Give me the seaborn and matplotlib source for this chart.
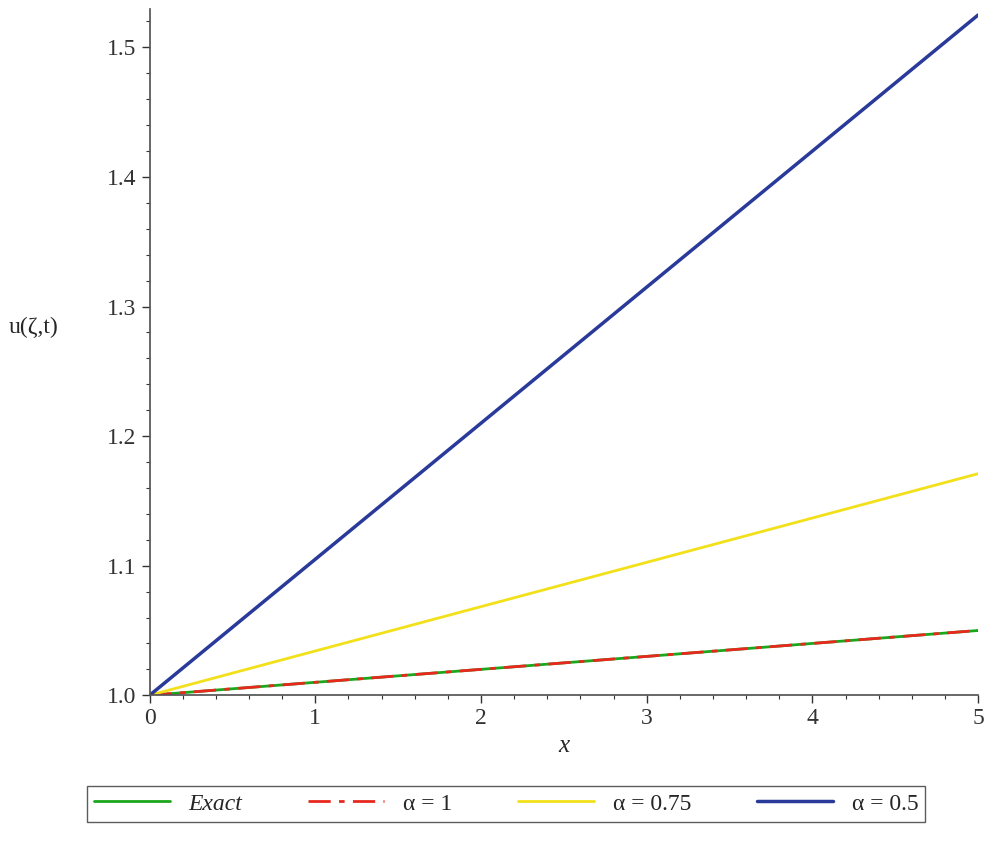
import numpy as np
import seaborn as sns
import matplotlib.pyplot as plt
from matplotlib.ticker import MultipleLocator

sns.set_theme(style="white")
plt.rcParams['font.family'] = ['Liberation Serif', 'DejaVu Serif']

x = [0, 5]
exact = [1.0, 1.05]
alpha_1 = [1.0, 1.05]
alpha_075 = [1.0, 1.171]
alpha_05 = [1.0, 1.525]

fig = plt.figure(figsize=(9.91, 8.51), dpi=100)
ax = fig.add_axes([0.151, 0.183, 0.836, 0.807])

sns.lineplot(x=x, y=exact, ax=ax, color="#1ca61c", lw=2, label="Exact")
sns.lineplot(x=x, y=alpha_1, ax=ax, color="#e8281e", lw=2, label="α = 1")
ax.lines[-1].set_dashes([8, 3, 2, 3])
sns.lineplot(x=x, y=alpha_075, ax=ax, color="#f2e01a", lw=2, label="α = 0.75")
sns.lineplot(x=x, y=alpha_05, ax=ax, color="#2a3a9a", lw=2.5, label="α = 0.5")

ax.set_xlim(0, 5)
ax.set_ylim(1.0, 1.53)
ax.yaxis.set_major_locator(MultipleLocator(0.1))
ax.yaxis.set_minor_locator(MultipleLocator(0.02))
ax.xaxis.set_major_locator(MultipleLocator(1))
ax.xaxis.set_minor_locator(MultipleLocator(0.2))
ax.yaxis.set_major_formatter(plt.FuncFormatter(lambda v, p: f"{v:.1f}"))
ax.tick_params(which="major", direction="out", length=6, width=1, labelsize=17, left=True, bottom=True, colors="#333333")
ax.tick_params(which="minor", direction="out", length=3, width=0.8, left=True, bottom=True, colors="#333333")
for s in ["top", "right"]:
    ax.spines[s].set_visible(False)
for s in ["left", "bottom"]:
    ax.spines[s].set_color("#555555")

ax.set_xlabel("x", fontsize=18, style="italic", labelpad=4)
ax.set_ylabel("u(ζ,t)", fontsize=17, rotation=0, labelpad=30)
ax.yaxis.set_label_coords(-0.14, 0.52)

leg = ax.legend(loc="upper left", bbox_to_anchor=(-0.09, -0.115), ncol=4, fontsize=17,
                frameon=True, fancybox=False, edgecolor="#333333", handlelength=3.2,
                columnspacing=2.8, borderpad=0.3)
leg.get_texts()[0].set_style("italic")

fig.savefig("out.png", dpi=100)
